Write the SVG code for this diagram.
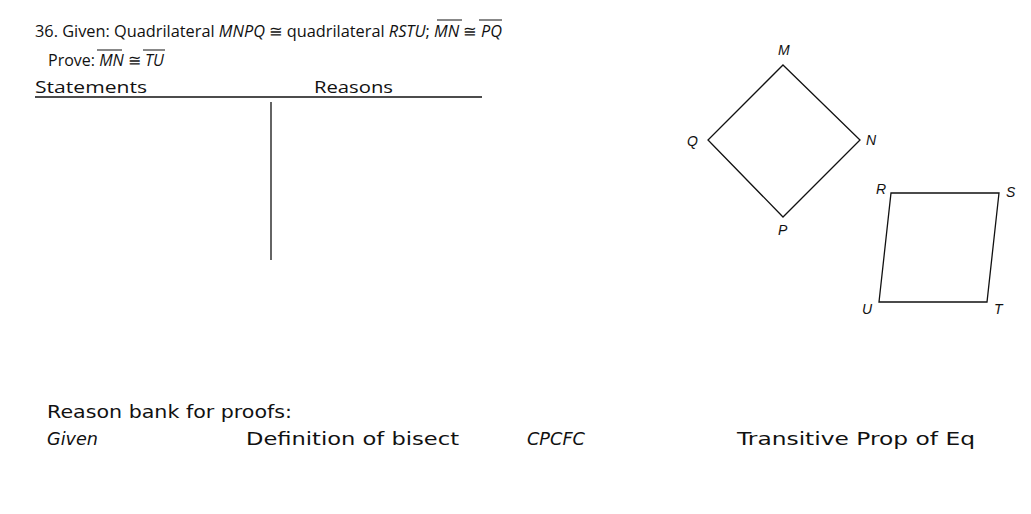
<svg xmlns="http://www.w3.org/2000/svg" width="1031" height="514" viewBox="0 0 1031 514">
<style>
.t{font-family:"Open Sans","Liberation Sans",sans-serif;font-size:16px;fill:#111}
.i{font-style:italic}
.l{font-family:"Liberation Sans",sans-serif;font-style:italic;font-size:14px;fill:#111}
.b{font-family:"DejaVu Sans",sans-serif;font-size:18px;fill:#111}
.ln{stroke:#111;stroke-width:1.3;fill:none}
.ol{stroke:#111;stroke-width:1}
</style>
<rect width="1031" height="514" fill="#fff"/>
<g id="header">
<text class="t" x="35" y="37" textLength="467" lengthAdjust="spacingAndGlyphs">36.  Given: Quadrilateral <tspan class="i">MNPQ</tspan> ≅ quadrilateral <tspan class="i">RSTU</tspan>; <tspan class="i">MN</tspan> ≅ <tspan class="i">PQ</tspan></text>
<line class="ol" x1="437" y1="20" x2="462" y2="20"/>
<line class="ol" x1="479" y1="20" x2="502" y2="20"/>
<text class="t" x="48" y="66">Prove: <tspan class="i">MN</tspan> ≅ <tspan class="i">TU</tspan></text>
<line class="ol" x1="97" y1="50" x2="122" y2="50"/>
<line class="ol" x1="143" y1="50" x2="165" y2="50"/>
<text class="t" x="35" y="93" textLength="112" lengthAdjust="spacingAndGlyphs">Statements</text>
<text class="t" x="314" y="93" textLength="79" lengthAdjust="spacingAndGlyphs">Reasons</text>
<line class="ln" x1="35" y1="97" x2="482" y2="97"/>
<line class="ln" x1="271" y1="102" x2="271" y2="260"/>
</g>
<g id="MNPQ">
<polygon class="ln" points="783,65 860,140 783,217 708,140"/>
<text class="l" x="778" y="55">M</text>
<text class="l" x="866" y="145">N</text>
<text class="l" x="778" y="235">P</text>
<text class="l" x="687" y="146">Q</text>
</g>
<g id="RSTU">
<polygon class="ln" points="891,193 999,193 987,302 879,302"/>
<text class="l" x="876" y="194">R</text>
<text class="l" x="1006" y="197">S</text>
<text class="l" x="994" y="314">T</text>
<text class="l" x="862" y="314">U</text>
</g>
<g id="bank">
<text class="b" x="47" y="418" textLength="245" lengthAdjust="spacingAndGlyphs">Reason bank for proofs:</text>
<text class="b i" x="47" y="445" textLength="51" lengthAdjust="spacingAndGlyphs">Given</text>
<text class="b" x="246" y="445" textLength="213" lengthAdjust="spacingAndGlyphs">Definition of bisect</text>
<text class="b i" x="527" y="445" textLength="58" lengthAdjust="spacingAndGlyphs">CPCFC</text>
<text class="b" x="737" y="445" textLength="238" lengthAdjust="spacingAndGlyphs">Transitive Prop of Eq</text>
</g>
</svg>
